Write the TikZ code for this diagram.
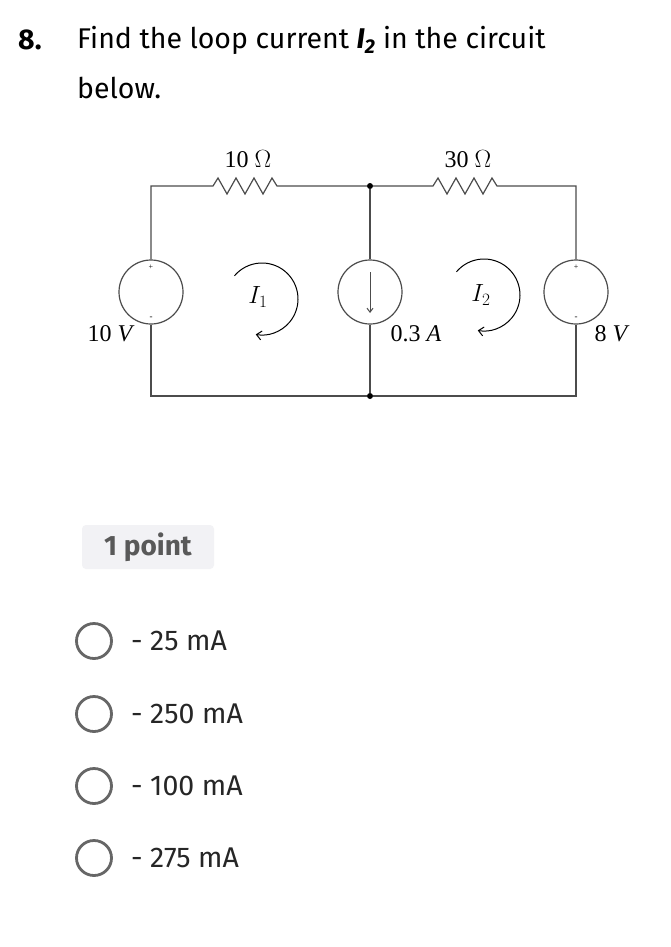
\documentclass[tikz,border=0pt]{standalone}
\usepackage{fontspec}
\setmainfont{Liberation Serif}
\newfontfamily\qfont{Fira Sans}
\usetikzlibrary{arrows.meta}
\begin{document}
\begin{tikzpicture}[x=1pt,y=-1pt,
  wire/.style={draw=black!70,line width=1.2},
  src/.style={circle,draw=black!70,line width=1.2,minimum size=64,inner sep=0},
  dotn/.style={circle,fill=black,inner sep=0,minimum size=6},
  lbl/.style={font=\fontsize{24}{26}\selectfont},
  qtext/.style={font=\qfont\fontsize{28.5}{32}\selectfont,anchor=west,inner sep=0},
  opt/.style={circle,draw=black!60,line width=2.8,minimum size=35,inner sep=0},
  opttext/.style={font=\qfont\fontsize{28.5}{32}\selectfont,anchor=west,inner sep=0,text=black!85},
  loop/.style={black,line width=1,-{Straight Barb[length=5pt,width=9pt]}}]
\useasboundingbox (0,0) rectangle (670,947);
\fill[white] (0,0) rectangle (670,947);
% question
\node[qtext,font=\qfont\bfseries\fontsize{28.5}{32}\selectfont] (num) at (18,40) {8.};
\node[qtext] (q1) at (77,40) {Find the loop current \textbf{\itshape I\textsubscript{2}} in the circuit};
\node[qtext] (q2) at (77,88) {below.};
% circuit coordinates
\coordinate (tl) at (151,186); \coordinate (bl) at (151,396);
\coordinate (tm) at (370,186); \coordinate (bm) at (370,396);
\coordinate (tr) at (576,186); \coordinate (br) at (576,396);
\node[src] (v1) at (151,292) {};
\node[src] (cs) at (370,292) {};
\node[src] (v2) at (576,292) {};
\node[dotn] (d1) at (tm) {};
\node[dotn] (d2) at (bm) {};
% wires
\draw[wire] (v1.north) -- (tl) -- (213,186) -- (218,178) -- (227,194) -- (236,178) -- (245,194) -- (254,178) -- (263,194) -- (272,178) -- (277,186) -- (d1);
\draw[wire] (d1) -- (433,186) -- (438,178) -- (447,194) -- (456,178) -- (465,194) -- (474,178) -- (483,194) -- (492,178) -- (497,186) -- (tr) -- (v2.north);
\draw[wire] (v1.south) -- (bl) -- (d2) -- (br) -- (v2.south);
\draw[wire] (d1) -- (cs.north); \draw[wire] (cs.south) -- (d2);
% source marks
\node[font=\fontsize{8}{8}\selectfont] at (151,267) {+};
\node[font=\fontsize{9}{9}\selectfont] at (151,318) {-};
\node[font=\fontsize{8}{8}\selectfont] at (576,267) {+};
\node[font=\fontsize{9}{9}\selectfont] at (576,318) {-};
\draw[black!70,line width=1,-{Straight Barb[length=4pt,width=6pt]}] (370,272) -- (370,313);
% labels
\node[lbl] (r1l) at (248,159) {10 $\Omega$};
\node[lbl] (r2l) at (468,159) {30 $\Omega$};
\node[lbl] (v1l) at (111,334) {10 \textit{V}};
\node[lbl] (csl) at (416,334) {0.3 \textit{A}};
\node[lbl] (v2l) at (612,334) {8 \textit{V}};
\node[lbl] (i1) at (258,297) {$I_1$};
\node[lbl] (i2) at (481,295) {$I_2$};
% loop arrows
\draw[loop] (262,299) ++(-140:36) arc[start angle=-140,end angle=100,radius=36];
\draw[loop] (484,295) ++(-140:36) arc[start angle=-140,end angle=100,radius=36];
% point box
\fill[blue!20!black!5,rounded corners=4] (82,525) rectangle (214,569);
\node[font=\qfont\bfseries\fontsize{28}{30}\selectfont,text=black!65] (pt) at (148,547) {1 point};
% options
\node[opt] (o1) at (94,641) {}; \node[opttext] (t1) at (131,641) {- 25 mA};
\node[opt] (o2) at (94,714) {}; \node[opttext] (t2) at (131,714) {- 250 mA};
\node[opt] (o3) at (94,786) {}; \node[opttext] (t3) at (131,786) {- 100 mA};
\node[opt] (o4) at (94,858) {}; \node[opttext] (t4) at (131,858) {- 275 mA};
\end{tikzpicture}
\end{document}
